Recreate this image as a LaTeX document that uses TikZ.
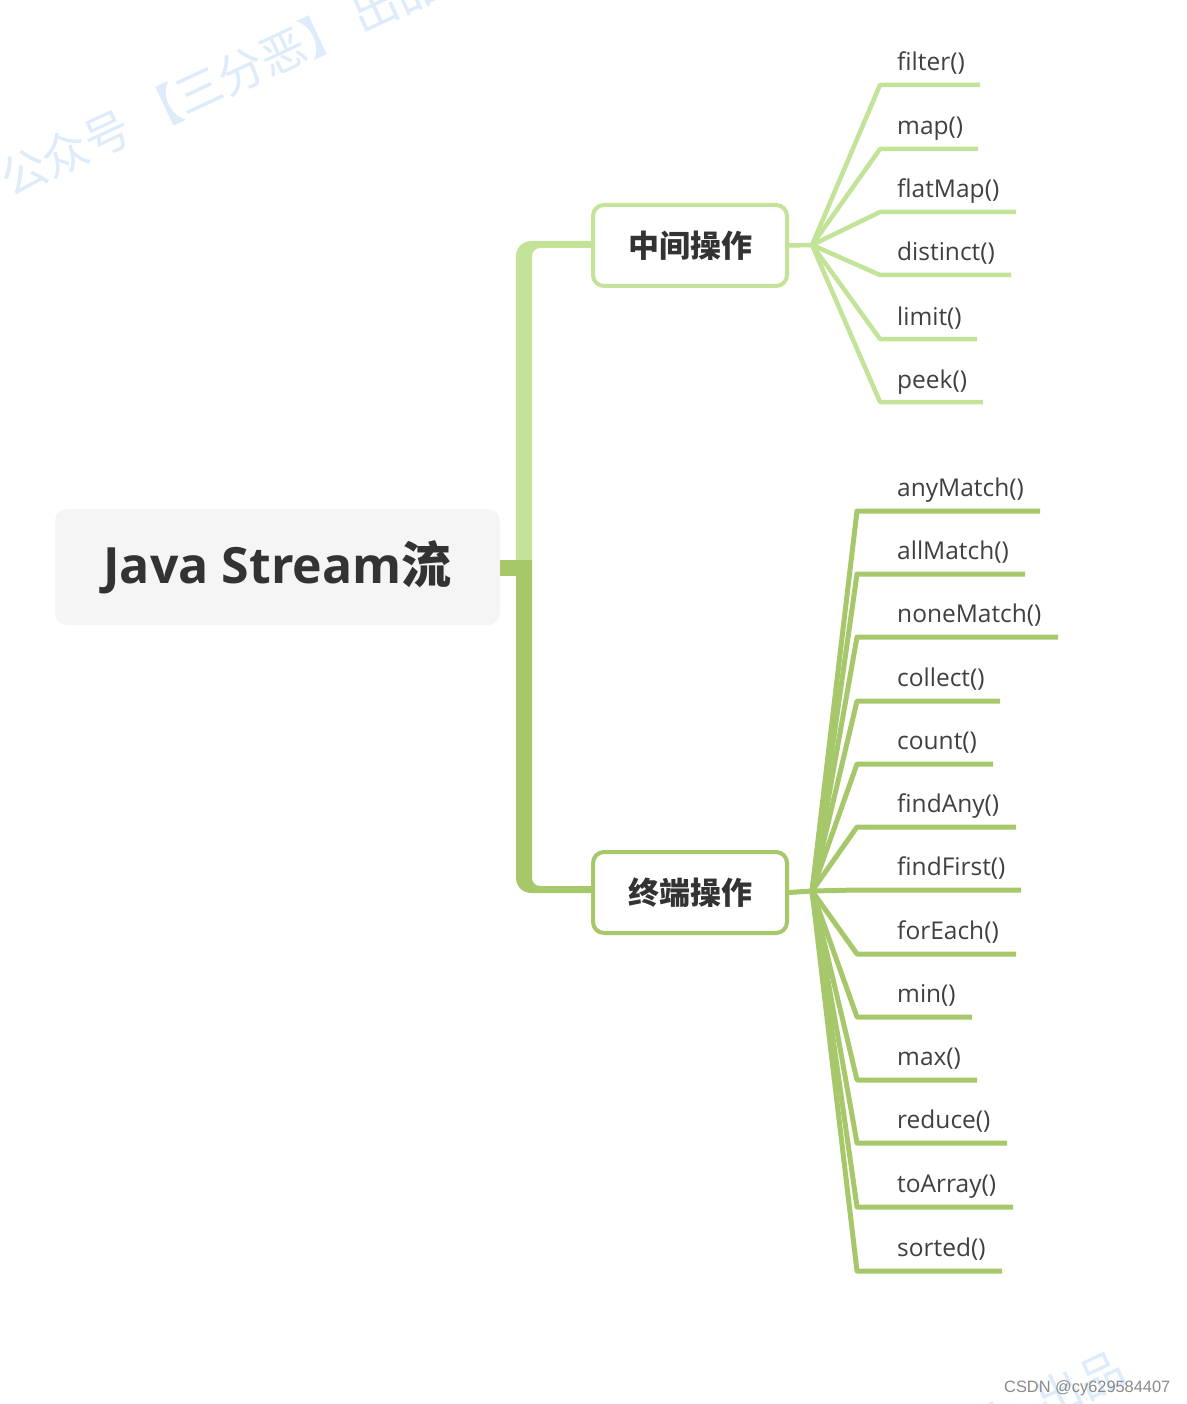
\documentclass[tikz,border=0pt]{standalone}
\usepackage{fontspec}
\setmainfont{Open Sans}
\newfontfamily\cjk{Noto Sans CJK SC}
\newfontfamily\csdnfont{Liberation Sans}
\definecolor{lgreen}{HTML}{C3E398}
\definecolor{dgreen}{HTML}{A6C86B}
\definecolor{txt}{HTML}{333333}
\definecolor{ctxt}{HTML}{404040}
\definecolor{wmblue}{HTML}{DDEBFB}
\definecolor{rootfill}{HTML}{F5F5F5}
\definecolor{csdngray}{HTML}{8A8A8A}
\tikzset{
  rootbox/.style={fill=rootfill, rounded corners=12pt, minimum width=445pt, minimum height=116pt, inner sep=0pt, text=txt, font=\bfseries\fontsize{50}{60}\selectfont},
  midbox/.style={draw=#1, fill=white, line width=4pt, rounded corners=11pt, minimum width=194pt, minimum height=81pt, inner sep=0pt, text=txt, font=\cjk\bfseries\fontsize{31}{36}\selectfont},
  leaf/.style={anchor=base west, inner sep=0pt, text=ctxt, font=\fontsize{24.5}{28}\selectfont},
  upline/.style={lgreen, line width=4.5pt, line join=round},
  lowline/.style={dgreen, line width=5pt, line join=round},
  watermark/.style={text=wmblue, font=\cjk\fontsize{46}{46}\selectfont, inner sep=0pt},
}
\begin{document}
\begin{tikzpicture}[x=1pt, y=-1pt]
\useasboundingbox (0,0) rectangle (1186,1404);
\fill[white] (0,0) rectangle (1186,1404);

% watermarks
\node[watermark, rotate=25, anchor=base west] (wm1) at (10,198) {公众号\hspace{10pt}【三分恶】\hspace{10pt}出品};
\node[watermark, rotate=25, anchor=base west] (wm2) at (694,1584) {公众号\hspace{10pt}【三分恶】\hspace{10pt}出品};

% nodes
\node[rootbox] (root) at (277.5,567) {Java Stream{\cjk 流}};
\node[midbox=lgreen] (mid) at (690,245.5) {中间操作};
\node[midbox=dgreen] (term) at (690,892.5) {终端操作};

% trunk
\fill[dgreen] (root.east |- 0,560) rectangle (532,576);
\fill[lgreen] (516,560) -- (516,256) arc[start angle=180, end angle=270, radius=15] -- (591,241) -- (591,248) -- (540,248) arc[start angle=270, end angle=180, radius=8] -- (532,560) -- cycle;
\fill[dgreen] (516,560) -- (516,878) arc[start angle=180, end angle=90, radius=15] -- (591,893) -- (591,886) -- (540,886) arc[start angle=90, end angle=180, radius=8] -- (532,878) -- (532,560) -- cycle;

% upper fan
\coordinate (uh) at (812,245);
\draw[upline] (mid.east) -- (uh);
\foreach \t/\y/\e [count=\i] in {filter()/85/980, map()/149/978, flatMap()/212/1016, distinct()/275/1011, limit()/339/977, peek()/402/983} {
  \node[leaf] (u\i) at (897,\y-14) {\t};
  \draw[upline] (uh) -- (880,\y) -- (\e,\y);
}

% lower fan
\coordinate (lh) at (812,891);
\draw[lowline] (term.east) -- (lh);
\foreach \t/\y/\e [count=\i] in {anyMatch()/511/1040, allMatch()/574/1025, noneMatch()/637/1058, collect()/701/1000, count()/764/993, findAny()/827/1016, findFirst()/890/1021, forEach()/954/1016, min()/1017/972, max()/1080/977, reduce()/1143/1007, toArray()/1207/1013, sorted()/1271/1002} {
  \node[leaf] (l\i) at (897,\y-15) {\t};
  \draw[lowline] (lh) -- (857,\y) -- (\e,\y);
}

% csdn
\node[anchor=base west, inner sep=0pt, text=csdngray, font=\csdnfont\fontsize{16.4}{18}\selectfont] (csdn) at (1004,1392) {CSDN @cy629584407};
\end{tikzpicture}
\end{document}
